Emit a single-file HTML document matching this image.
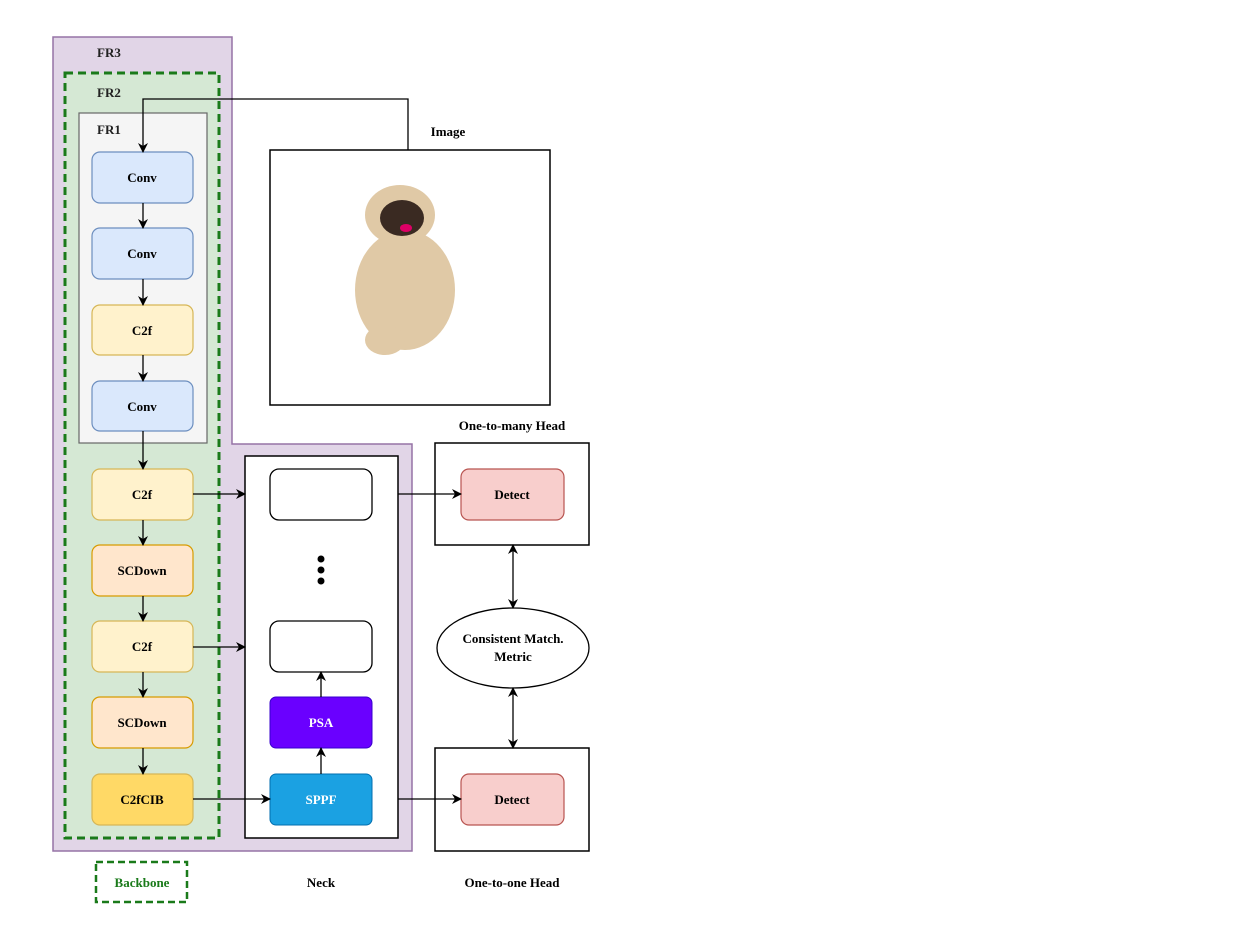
<!DOCTYPE html>
<html><head><meta charset="utf-8"><style>
body{margin:0;background:#fff;}
svg{display:block;font-family:"Liberation Serif",serif;font-weight:bold;}
</style></head><body>
<svg width="1242" height="946" viewBox="0 0 1242 946" xmlns="http://www.w3.org/2000/svg">
<defs><marker id="a" markerWidth="10" markerHeight="10" refX="9" refY="5" orient="auto" markerUnits="userSpaceOnUse"><path d="M0,0 L10,5 L0,10 L3,5 z" fill="#000"/></marker>
<marker id="b" markerWidth="10" markerHeight="10" refX="1" refY="5" orient="auto" markerUnits="userSpaceOnUse"><path d="M10,0 L0,5 L10,10 L7,5 z" fill="#000"/></marker></defs>
<polygon points="53,37 232,37 232,444 412,444 412,851 53,851" fill="#e1d5e7" stroke="#9673a6" stroke-width="1.5"/>
<rect x="65" y="73" width="154" height="765" fill="#d5e8d4" stroke="#1a7a1a" stroke-width="3" stroke-dasharray="8,5"/>
<rect x="79" y="113" width="128" height="330" fill="#f5f5f5" stroke="#666" stroke-width="1.2"/>
<g font-size="13" fill="#222"><text x="97" y="57">FR3</text><text x="97" y="97">FR2</text><text x="97" y="134">FR1</text></g>
<g stroke-width="1.2" font-size="13" text-anchor="middle">
<rect x="92" y="152" width="101" height="51" rx="8" fill="#dae8fc" stroke="#6c8ebf"/><text x="142" y="182">Conv</text>
<rect x="92" y="228" width="101" height="51" rx="8" fill="#dae8fc" stroke="#6c8ebf"/><text x="142" y="258">Conv</text>
<rect x="92" y="305" width="101" height="50" rx="8" fill="#fff2cc" stroke="#d6b656"/><text x="142" y="335">C2f</text>
<rect x="92" y="381" width="101" height="50" rx="8" fill="#dae8fc" stroke="#6c8ebf"/><text x="142" y="411">Conv</text>
<rect x="92" y="469" width="101" height="51" rx="8" fill="#fff2cc" stroke="#d6b656"/><text x="142" y="499">C2f</text>
<rect x="92" y="545" width="101" height="51" rx="8" fill="#ffe6cc" stroke="#d79b00"/><text x="142" y="575">SCDown</text>
<rect x="92" y="621" width="101" height="51" rx="8" fill="#fff2cc" stroke="#d6b656"/><text x="142" y="651">C2f</text>
<rect x="92" y="697" width="101" height="51" rx="8" fill="#ffe6cc" stroke="#d79b00"/><text x="142" y="727">SCDown</text>
<rect x="92" y="774" width="101" height="51" rx="8" fill="#ffd966" stroke="#d6b656"/><text x="142" y="804">C2fCIB</text>
</g>
<rect x="245" y="456" width="153" height="382" fill="#fff" stroke="#000" stroke-width="1.5"/>
<rect x="270" y="469" width="102" height="51" rx="9" fill="#fff" stroke="#000" stroke-width="1.3"/>
<rect x="270" y="621" width="102" height="51" rx="9" fill="#fff" stroke="#000" stroke-width="1.3"/>
<circle cx="321" cy="559" r="3.5"/><circle cx="321" cy="570" r="3.5"/><circle cx="321" cy="581" r="3.5"/>
<rect x="270" y="697" width="102" height="51" rx="6" fill="#6a00ff" stroke="#3700cc"/>
<text x="321" y="727" fill="#fff" font-size="13" text-anchor="middle">PSA</text>
<rect x="270" y="774" width="102" height="51" rx="6" fill="#1ba1e2" stroke="#006eaf"/>
<text x="321" y="804" fill="#fff" font-size="13" text-anchor="middle">SPPF</text>
<rect x="270" y="150" width="280" height="255" fill="#fff" stroke="#000" stroke-width="1.5"/>
<g fill="#e0c9a6"><ellipse cx="400" cy="215" rx="35" ry="30"/><ellipse cx="405" cy="290" rx="50" ry="60"/><ellipse cx="385" cy="340" rx="20" ry="15"/></g>
<ellipse cx="402" cy="218" rx="22" ry="18" fill="#3a2a22"/>
<ellipse cx="406" cy="228" rx="6" ry="4" fill="#d06"/>
<polyline points="408,150 408,99 143,99 143,152" fill="none" stroke="#000" stroke-width="1.3" marker-end="url(#a)"/>
<rect x="435" y="443" width="154" height="102" fill="#fff" stroke="#000" stroke-width="1.5"/>
<rect x="435" y="748" width="154" height="103" fill="#fff" stroke="#000" stroke-width="1.5"/>
<g font-size="13" text-anchor="middle">
<rect x="461" y="469" width="103" height="51" rx="8" fill="#f8cecc" stroke="#b85450" stroke-width="1.2"/><text x="512" y="499">Detect</text>
<rect x="461" y="774" width="103" height="51" rx="8" fill="#f8cecc" stroke="#b85450" stroke-width="1.2"/><text x="512" y="804">Detect</text>
<ellipse cx="513" cy="648" rx="76" ry="40" fill="#fff" stroke="#000" stroke-width="1.3"/>
<text x="513" y="643">Consistent Match.</text><text x="513" y="661">Metric</text>
<text x="448" y="136">Image</text>
<text x="512" y="430">One-to-many Head</text>
<text x="512" y="887">One-to-one Head</text>
<text x="321" y="887">Neck</text>
<text x="142" y="887" fill="#1a7a1a">Backbone</text>
</g>
<rect x="96" y="862" width="91" height="40" fill="none" stroke="#1a7a1a" stroke-width="2.5" stroke-dasharray="7,4"/>
<g stroke="#000" stroke-width="1.3" fill="none">
<line x1="143" y1="203" x2="143" y2="228" marker-end="url(#a)"/>
<line x1="143" y1="279" x2="143" y2="305" marker-end="url(#a)"/>
<line x1="143" y1="355" x2="143" y2="381" marker-end="url(#a)"/>
<line x1="143" y1="431" x2="143" y2="469" marker-end="url(#a)"/>
<line x1="143" y1="520" x2="143" y2="545" marker-end="url(#a)"/>
<line x1="143" y1="596" x2="143" y2="621" marker-end="url(#a)"/>
<line x1="143" y1="672" x2="143" y2="697" marker-end="url(#a)"/>
<line x1="143" y1="748" x2="143" y2="774" marker-end="url(#a)"/>
<line x1="193" y1="494" x2="245" y2="494" marker-end="url(#a)"/>
<line x1="193" y1="647" x2="245" y2="647" marker-end="url(#a)"/>
<line x1="193" y1="799" x2="270" y2="799" marker-end="url(#a)"/>
<line x1="321" y1="774" x2="321" y2="748" marker-end="url(#a)"/>
<line x1="321" y1="697" x2="321" y2="672" marker-end="url(#a)"/>
<line x1="398" y1="494" x2="461" y2="494" marker-end="url(#a)"/>
<line x1="398" y1="799" x2="461" y2="799" marker-end="url(#a)"/>
<line x1="513" y1="545" x2="513" y2="608" marker-start="url(#b)" marker-end="url(#a)"/>
<line x1="513" y1="688" x2="513" y2="748" marker-start="url(#b)" marker-end="url(#a)"/>
</g>
</svg>
</body></html>
